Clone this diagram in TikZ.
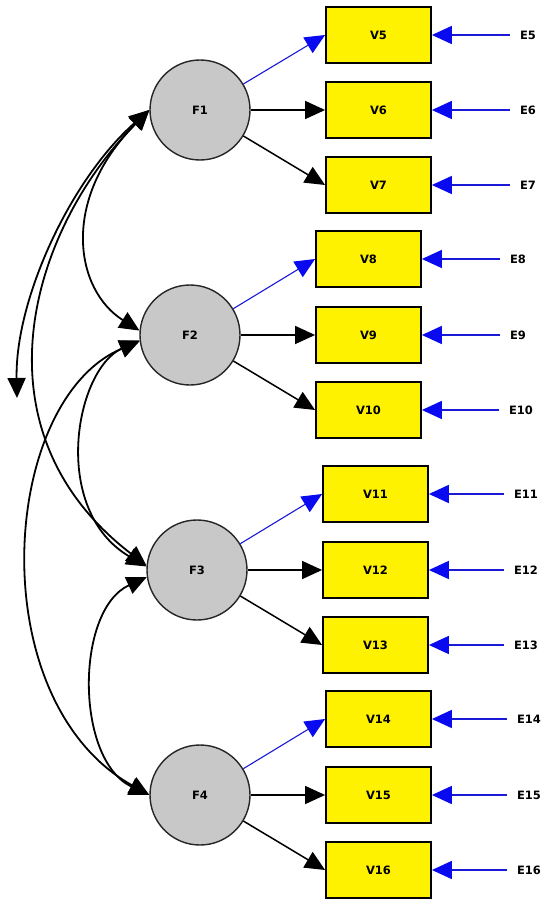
\documentclass[tikz,border=0pt]{standalone}
\usepackage{fontspec}
\setmainfont{DejaVu Sans}
\usetikzlibrary{arrows.meta}
\definecolor{lblue}{RGB}{25,25,215}
\definecolor{hblue}{RGB}{10,10,240}
\definecolor{fgray}{RGB}{200,200,200}
\begin{document}
\begin{tikzpicture}[x=1pt,y=-1pt,
  lat/.style={circle,draw=black!85,line width=1.4pt,fill=fgray,minimum size=100pt,inner sep=0pt,font=\fontsize{11.5}{13}\selectfont\bfseries},
  obs/.style={rectangle,draw=black,line width=1.8pt,fill=yellow,minimum width=105pt,minimum height=56pt,inner sep=0pt,font=\fontsize{11.5}{13}\selectfont\bfseries},
  err/.style={inner xsep=10pt,inner ysep=2pt,font=\fontsize{11.5}{13}\selectfont\bfseries},
  head/.tip={Triangle[length=20pt,width=18pt]},
  ldb/.style={-head,line width=1.5pt,draw=black,fill=black},
  ldu/.style={-{Triangle[length=20pt,width=18pt,color=hblue]},line width=1.1pt,draw=lblue},
  erra/.style={-{Triangle[length=20pt,width=18pt,color=hblue]},line width=1.7pt,draw=lblue},
  cov/.style={head-head,line width=1.8pt,draw=black}
]
\path[fill=white,use as bounding box] (0,0) rectangle (552,917);

% latent factors
\node[lat] (F1) at (200,110) {F1};
\node[lat] (F2) at (190,335) {F2};
\node[lat] (F3) at (197,570) {F3};
\node[lat] (F4) at (200,795) {F4};

% observed variables
\node[obs] (V5)  at (378.5,35)  {V5};
\node[obs] (V6)  at (378.5,110) {V6};
\node[obs] (V7)  at (378.5,185) {V7};
\node[obs] (V8)  at (368.5,259) {V8};
\node[obs] (V9)  at (368.5,335) {V9};
\node[obs] (V10) at (368.5,410) {V10};
\node[obs] (V11) at (375.5,494) {V11};
\node[obs] (V12) at (375.5,570) {V12};
\node[obs] (V13) at (375.5,645) {V13};
\node[obs] (V14) at (378.5,719) {V14};
\node[obs] (V15) at (378.5,795) {V15};
\node[obs] (V16) at (378.5,870) {V16};

% errors
\node[err] (E5)  at (528,35)  {E5};
\node[err] (E6)  at (528,110) {E6};
\node[err] (E7)  at (528,185) {E7};
\node[err] (E8)  at (518,259) {E8};
\node[err] (E9)  at (518,335) {E9};
\node[err] (E10) at (521,410) {E10};
\node[err] (E11) at (526,494) {E11};
\node[err] (E12) at (526,570) {E12};
\node[err] (E13) at (526,645) {E13};
\node[err] (E14) at (529,719) {E14};
\node[err] (E15) at (529,795) {E15};
\node[err] (E16) at (529,870) {E16};

% loadings
\draw[ldu] (F1) -- (V5.west);
\draw[ldb] (F1) -- (V6.west);
\draw[ldb] (F1) -- (V7.west);
\draw[ldu] (F2) -- (V8.west);
\draw[ldb] (F2) -- (V9.west);
\draw[ldb] (F2) -- (V10.west);
\draw[ldu] (F3) -- (V11.west);
\draw[ldb] (F3) -- (V12.west);
\draw[ldb] (F3) -- (V13.west);
\draw[ldu] (F4) -- (V14.west);
\draw[ldb] (F4) -- (V15.west);
\draw[ldb] (F4) -- (V16.west);

% error arrows
\foreach \i in {5,...,16} {\draw[erra] (E\i) -- (V\i.east);}

% covariances
\coordinate (T) at (17,398);
\draw[cov] (F1.west) .. controls (60,200) and (75,290) .. (F2.175);
\draw[cov] (F1.west) .. controls (70,180) and (15,300) .. (T);
\draw[cov] (F1.west) .. controls (30,230) and (-30,430) .. (F3.175);
\draw[cov] (F2.186) .. controls (75,370) and (50,510) .. (F3.176);
\draw[cov] (F2.187) .. controls (0,400) and (-20,700) .. (F4.west);
\draw[cov] (F3.188) .. controls (75,610) and (75,760) .. (F4.west);
\end{tikzpicture}
\end{document}
